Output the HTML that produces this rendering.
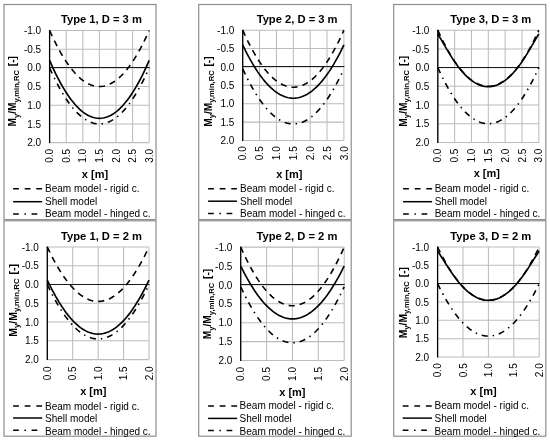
<!DOCTYPE html>
<html lang="en"><head><meta charset="utf-8"><title>Moment distribution charts</title>
<style>html,body{margin:0;padding:0;background:#fff}body{width:550px;height:440px;overflow:hidden}</style></head>
<body>
<svg width="550" height="440" viewBox="0 0 550 440" style="display:block" font-family="'Liberation Sans', sans-serif" fill="#000">
<rect x="0" y="0" width="550" height="440" fill="#fff"/>
<g>
<rect x="4" y="4.5" width="152" height="215.1" fill="#fff" stroke="#8e8e8e" stroke-width="1.2"/>
<path d="M49.6 30.5V142.6M66.2 30.5V142.6M82.8 30.5V142.6M99.4 30.5V142.6M116 30.5V142.6M132.6 30.5V142.6M149.2 30.5V142.6M49.6 30.5H149.2M49.6 49.18H149.2M49.6 67.87H149.2M49.6 86.55H149.2M49.6 105.23H149.2M49.6 123.92H149.2M49.6 142.6H149.2" stroke="#bcbcbc" stroke-width="1.05" fill="none"/>
<path d="M49.6 67.5H149.7" stroke="#1a1a1a" stroke-width="1" fill="none"/>
<path d="M49.6 30V143.1" stroke="#000" stroke-width="1.3" fill="none"/>
<path d="M49.6 30.5L51.26 34.17L52.92 37.72L54.58 41.15L56.24 44.45L57.9 47.63L59.56 50.68L61.22 53.61L62.88 56.41L64.54 59.09L66.2 61.64L67.86 64.07L69.52 66.37L71.18 68.55L72.84 70.61L74.5 72.54L76.16 74.34L77.82 76.03L79.48 77.58L81.14 79.01L82.8 80.32L84.46 81.51L86.12 82.56L87.78 83.5L89.44 84.31L91.1 84.99L92.76 85.55L94.42 85.99L96.08 86.3L97.74 86.49L99.4 86.55L101.06 86.49L102.72 86.3L104.38 85.99L106.04 85.55L107.7 84.99L109.36 84.31L111.02 83.5L112.68 82.56L114.34 81.51L116 80.32L117.66 79.01L119.32 77.58L120.98 76.03L122.64 74.34L124.3 72.54L125.96 70.61L127.62 68.55L129.28 66.37L130.94 64.07L132.6 61.64L134.26 59.09L135.92 56.41L137.58 53.61L139.24 50.68L140.9 47.63L142.56 44.45L144.22 41.15L145.88 37.72L147.54 34.17L149.2 30.5" stroke="#000" stroke-width="1.6" fill="none" stroke-dasharray="6.1 5.04"/>
<path d="M49.6 67.87L51.26 71.54L52.92 75.09L54.58 78.52L56.24 81.82L57.9 84.99L59.56 88.04L61.22 90.97L62.88 93.77L64.54 96.45L66.2 99.01L67.86 101.43L69.52 103.74L71.18 105.92L72.84 107.97L74.5 109.9L76.16 111.71L77.82 113.39L79.48 114.95L81.14 116.38L82.8 117.69L84.46 118.87L86.12 119.93L87.78 120.87L89.44 121.67L91.1 122.36L92.76 122.92L94.42 123.36L96.08 123.67L97.74 123.85L99.4 123.92L101.06 123.85L102.72 123.67L104.38 123.36L106.04 122.92L107.7 122.36L109.36 121.67L111.02 120.87L112.68 119.93L114.34 118.87L116 117.69L117.66 116.38L119.32 114.95L120.98 113.39L122.64 111.71L124.3 109.9L125.96 107.97L127.62 105.92L129.28 103.74L130.94 101.43L132.6 99.01L134.26 96.45L135.92 93.77L137.58 90.97L139.24 88.04L140.9 84.99L142.56 81.82L144.22 78.52L145.88 75.09L147.54 71.54L149.2 67.87" stroke="#000" stroke-width="1.6" fill="none" stroke-dasharray="6.1 4.9 1.5 4.9"/>
<path d="M49.6 60.39L51.26 64.19L52.92 67.86L54.58 71.4L56.24 74.81L57.9 78.09L59.56 81.24L61.22 84.27L62.88 87.16L64.54 89.93L66.2 92.57L67.86 95.08L69.52 97.46L71.18 99.71L72.84 101.84L74.5 103.83L76.16 105.7L77.82 107.44L79.48 109.04L81.14 110.52L82.8 111.88L84.46 113.1L86.12 114.19L87.78 115.16L89.44 115.99L91.1 116.7L92.76 117.28L94.42 117.73L96.08 118.05L97.74 118.25L99.4 118.31L101.06 118.25L102.72 118.05L104.38 117.73L106.04 117.28L107.7 116.7L109.36 115.99L111.02 115.16L112.68 114.19L114.34 113.1L116 111.88L117.66 110.52L119.32 109.04L120.98 107.44L122.64 105.7L124.3 103.83L125.96 101.84L127.62 99.71L129.28 97.46L130.94 95.08L132.6 92.57L134.26 89.93L135.92 87.16L137.58 84.27L139.24 81.24L140.9 78.09L142.56 74.81L144.22 71.4L145.88 67.86L147.54 64.19L149.2 60.39" stroke="#000" stroke-width="1.65" fill="none"/>
<g font-size="10" text-anchor="end">
<text x="41.2" y="34.1">-1.0</text>
<text x="41.2" y="52.78">-0.5</text>
<text x="41.2" y="71.47">0.0</text>
<text x="41.2" y="90.15">0.5</text>
<text x="41.2" y="108.83">1.0</text>
<text x="41.2" y="127.52">1.5</text>
<text x="41.2" y="146.2">2.0</text>
</g>
<g font-size="10" text-anchor="end">
<text transform="translate(53.2 148.9) rotate(-90)">0.0</text>
<text transform="translate(69.8 148.9) rotate(-90)">0.5</text>
<text transform="translate(86.4 148.9) rotate(-90)">1.0</text>
<text transform="translate(103 148.9) rotate(-90)">1.5</text>
<text transform="translate(119.6 148.9) rotate(-90)">2.0</text>
<text transform="translate(136.2 148.9) rotate(-90)">2.5</text>
<text transform="translate(152.8 148.9) rotate(-90)">3.0</text>
</g>
<text x="101.4" y="22.8" font-size="11.2" font-weight="bold" text-anchor="middle">Type 1, D = 3 m</text>
<text x="95" y="178" font-size="11" font-weight="bold" text-anchor="middle">x [m]</text>
<text transform="translate(16.4 126.5) rotate(-90)" font-size="10.2" font-weight="bold">M<tspan font-size="7.6" dy="2.2">y</tspan><tspan dy="-2.2">/M</tspan><tspan font-size="7.6" dy="2.2">y,min,RC</tspan><tspan dy="-2.2" dx="1"> [-]</tspan></text>
<path d="M13.1 188.7H42.2" stroke="#000" stroke-width="1.5" stroke-dasharray="5.8 5.8" fill="none"/>
<path d="M13.1 201.7H42.2" stroke="#000" stroke-width="1.5" fill="none"/>
<path d="M13.1 213.9H38.1" stroke="#000" stroke-width="1.5" stroke-dasharray="5.7 5.6 1.5 5.7" fill="none"/>
<g font-size="10">
<text x="45" y="192">Beam model - rigid c.</text>
<text x="45" y="205.3">Shell model</text>
<text x="45" y="216.6">Beam model - hinged c.</text>
</g>
</g>
<g>
<rect x="198.7" y="4.5" width="152.5" height="215.1" fill="#fff" stroke="#8e8e8e" stroke-width="1.2"/>
<path d="M242.7 30.2V140.5M259.57 30.2V140.5M276.43 30.2V140.5M293.3 30.2V140.5M310.17 30.2V140.5M327.03 30.2V140.5M343.9 30.2V140.5M242.7 30.2H343.9M242.7 48.58H343.9M242.7 66.97H343.9M242.7 85.35H343.9M242.7 103.73H343.9M242.7 122.12H343.9M242.7 140.5H343.9" stroke="#bcbcbc" stroke-width="1.05" fill="none"/>
<path d="M242.7 66.5H344.4" stroke="#1a1a1a" stroke-width="1" fill="none"/>
<path d="M242.7 29.7V141" stroke="#000" stroke-width="1.3" fill="none"/>
<path d="M242.7 30.2L244.39 33.94L246.07 37.55L247.76 41.03L249.45 44.38L251.13 47.61L252.82 50.72L254.51 53.69L256.19 56.54L257.88 59.26L259.57 61.86L261.25 64.33L262.94 66.67L264.63 68.89L266.31 70.98L268 72.94L269.69 74.78L271.37 76.49L273.06 78.07L274.75 79.53L276.43 80.86L278.12 82.06L279.81 83.14L281.49 84.09L283.18 84.91L284.87 85.61L286.55 86.18L288.24 86.62L289.93 86.94L291.61 87.13L293.3 87.19L294.99 87.13L296.67 86.94L298.36 86.62L300.05 86.18L301.73 85.61L303.42 84.91L305.11 84.09L306.79 83.14L308.48 82.06L310.17 80.86L311.85 79.53L313.54 78.07L315.23 76.49L316.91 74.78L318.6 72.94L320.29 70.98L321.97 68.89L323.66 66.67L325.35 64.33L327.03 61.86L328.72 59.26L330.41 56.54L332.09 53.69L333.78 50.72L335.47 47.61L337.15 44.38L338.84 41.03L340.53 37.55L342.21 33.94L343.9 30.2" stroke="#000" stroke-width="1.6" fill="none" stroke-dasharray="6.1 5.04"/>
<path d="M242.7 68.81L244.39 72.42L246.07 75.91L247.76 79.28L249.45 82.53L251.13 85.66L252.82 88.66L254.51 91.54L256.19 94.3L257.88 96.93L259.57 99.44L261.25 101.83L262.94 104.1L264.63 106.25L266.31 108.27L268 110.17L269.69 111.94L271.37 113.6L273.06 115.13L274.75 116.54L276.43 117.83L278.12 118.99L279.81 120.03L281.49 120.95L283.18 121.75L284.87 122.42L286.55 122.97L288.24 123.4L289.93 123.71L291.61 123.89L293.3 123.95L294.99 123.89L296.67 123.71L298.36 123.4L300.05 122.97L301.73 122.42L303.42 121.75L305.11 120.95L306.79 120.03L308.48 118.99L310.17 117.83L311.85 116.54L313.54 115.13L315.23 113.6L316.91 111.94L318.6 110.17L320.29 108.27L321.97 106.25L323.66 104.1L325.35 101.83L327.03 99.44L328.72 96.93L330.41 94.3L332.09 91.54L333.78 88.66L335.47 85.66L337.15 82.53L338.84 79.28L340.53 75.91L342.21 72.42L343.9 68.81" stroke="#000" stroke-width="1.6" fill="none" stroke-dasharray="6.1 4.9 1.5 4.9"/>
<path d="M242.7 44.91L244.39 48.4L246.07 51.78L247.76 55.04L249.45 58.18L251.13 61.2L252.82 64.1L254.51 66.88L256.19 69.55L257.88 72.1L259.57 74.52L261.25 76.83L262.94 79.03L264.63 81.1L266.31 83.05L268 84.89L269.69 86.61L271.37 88.21L273.06 89.69L274.75 91.05L276.43 92.29L278.12 93.42L279.81 94.43L281.49 95.32L283.18 96.09L284.87 96.74L286.55 97.27L288.24 97.69L289.93 97.98L291.61 98.16L293.3 98.22L294.99 98.16L296.67 97.98L298.36 97.69L300.05 97.27L301.73 96.74L303.42 96.09L305.11 95.32L306.79 94.43L308.48 93.42L310.17 92.29L311.85 91.05L313.54 89.69L315.23 88.21L316.91 86.61L318.6 84.89L320.29 83.05L321.97 81.1L323.66 79.03L325.35 76.83L327.03 74.52L328.72 72.1L330.41 69.55L332.09 66.88L333.78 64.1L335.47 61.2L337.15 58.18L338.84 55.04L340.53 51.78L342.21 48.4L343.9 44.91" stroke="#000" stroke-width="1.65" fill="none"/>
<g font-size="10" text-anchor="end">
<text x="234.3" y="33.8">-1.0</text>
<text x="234.3" y="52.18">-0.5</text>
<text x="234.3" y="70.57">0.0</text>
<text x="234.3" y="88.95">0.5</text>
<text x="234.3" y="107.33">1.0</text>
<text x="234.3" y="125.72">1.5</text>
<text x="234.3" y="144.1">2.0</text>
</g>
<g font-size="10" text-anchor="end">
<text transform="translate(246.3 146.3) rotate(-90)">0.0</text>
<text transform="translate(263.17 146.3) rotate(-90)">0.5</text>
<text transform="translate(280.03 146.3) rotate(-90)">1.0</text>
<text transform="translate(296.9 146.3) rotate(-90)">1.5</text>
<text transform="translate(313.77 146.3) rotate(-90)">2.0</text>
<text transform="translate(330.63 146.3) rotate(-90)">2.5</text>
<text transform="translate(347.5 146.3) rotate(-90)">3.0</text>
</g>
<text x="297.1" y="23" font-size="11.2" font-weight="bold" text-anchor="middle">Type 2, D = 3 m</text>
<text x="289.3" y="177.6" font-size="11" font-weight="bold" text-anchor="middle">x [m]</text>
<text transform="translate(211.7 126.8) rotate(-90)" font-size="10.2" font-weight="bold">M<tspan font-size="7.6" dy="2.2">y</tspan><tspan dy="-2.2">/M</tspan><tspan font-size="7.6" dy="2.2">y,min,RC</tspan><tspan dy="-2.2" dx="1"> [-]</tspan></text>
<path d="M208.1 188.8H236.9" stroke="#000" stroke-width="1.5" stroke-dasharray="5.8 5.8" fill="none"/>
<path d="M208.1 201.2H236.9" stroke="#000" stroke-width="1.5" fill="none"/>
<path d="M208.1 213.4H233.1" stroke="#000" stroke-width="1.5" stroke-dasharray="5.7 5.6 1.5 5.7" fill="none"/>
<g font-size="10">
<text x="240" y="191.9">Beam model - rigid c.</text>
<text x="240" y="204.9">Shell model</text>
<text x="240" y="217.2">Beam model - hinged c.</text>
</g>
</g>
<g>
<rect x="393.7" y="4.5" width="152.1" height="215.1" fill="#fff" stroke="#8e8e8e" stroke-width="1.2"/>
<path d="M437.8 30.2V142.4M454.63 30.2V142.4M471.47 30.2V142.4M488.3 30.2V142.4M505.13 30.2V142.4M521.97 30.2V142.4M538.8 30.2V142.4M437.8 30.2H538.8M437.8 48.9H538.8M437.8 67.6H538.8M437.8 86.3H538.8M437.8 105H538.8M437.8 123.7H538.8M437.8 142.4H538.8" stroke="#bcbcbc" stroke-width="1.05" fill="none"/>
<path d="M437.8 67.5H539.3" stroke="#1a1a1a" stroke-width="1" fill="none"/>
<path d="M437.8 29.7V142.9" stroke="#000" stroke-width="1.3" fill="none"/>
<path d="M437.8 30.2L439.48 33.88L441.17 37.43L442.85 40.86L444.53 44.16L446.22 47.34L447.9 50.4L449.58 53.33L451.27 56.13L452.95 58.81L454.63 61.37L456.32 63.8L458 66.1L459.68 68.29L461.37 70.34L463.05 72.27L464.73 74.08L466.42 75.77L468.1 77.32L469.78 78.76L471.47 80.07L473.15 81.25L474.83 82.31L476.52 83.25L478.2 84.06L479.88 84.74L481.57 85.3L483.25 85.74L484.93 86.05L486.62 86.24L488.3 86.3L489.98 86.24L491.67 86.05L493.35 85.74L495.03 85.3L496.72 84.74L498.4 84.06L500.08 83.25L501.77 82.31L503.45 81.25L505.13 80.07L506.82 78.76L508.5 77.32L510.18 75.77L511.87 74.08L513.55 72.27L515.23 70.34L516.92 68.29L518.6 66.1L520.28 63.8L521.97 61.37L523.65 58.81L525.33 56.13L527.02 53.33L528.7 50.4L530.38 47.34L532.07 44.16L533.75 40.86L535.43 37.43L537.12 33.88L538.8 30.2" stroke="#000" stroke-width="1.6" fill="none" stroke-dasharray="6.1 5.04"/>
<path d="M437.8 67.6L439.48 71.28L441.17 74.83L442.85 78.26L444.53 81.56L446.22 84.74L447.9 87.8L449.58 90.73L451.27 93.53L452.95 96.21L454.63 98.77L456.32 101.2L458 103.5L459.68 105.69L461.37 107.74L463.05 109.67L464.73 111.48L466.42 113.17L468.1 114.72L469.78 116.16L471.47 117.47L473.15 118.65L474.83 119.71L476.52 120.65L478.2 121.46L479.88 122.14L481.57 122.7L483.25 123.14L484.93 123.45L486.62 123.64L488.3 123.7L489.98 123.64L491.67 123.45L493.35 123.14L495.03 122.7L496.72 122.14L498.4 121.46L500.08 120.65L501.77 119.71L503.45 118.65L505.13 117.47L506.82 116.16L508.5 114.72L510.18 113.17L511.87 111.48L513.55 109.67L515.23 107.74L516.92 105.69L518.6 103.5L520.28 101.2L521.97 98.77L523.65 96.21L525.33 93.53L527.02 90.73L528.7 87.8L530.38 84.74L532.07 81.56L533.75 78.26L535.43 74.83L537.12 71.28L538.8 67.6" stroke="#000" stroke-width="1.6" fill="none" stroke-dasharray="6.1 4.9 1.5 4.9"/>
<path d="M437.8 33.94L439.48 36.75L441.17 39.63L442.85 42.54L444.53 45.45L446.22 48.33L447.9 51.16L449.58 53.93L451.27 56.62L452.95 59.22L454.63 61.72L456.32 64.12L458 66.41L459.68 68.58L461.37 70.63L463.05 72.57L464.73 74.38L466.42 76.07L468.1 77.64L469.78 79.08L471.47 80.4L473.15 81.59L474.83 82.66L476.52 83.6L478.2 84.42L479.88 85.11L481.57 85.67L483.25 86.11L484.93 86.42L486.62 86.61L488.3 86.67L489.98 86.61L491.67 86.42L493.35 86.11L495.03 85.67L496.72 85.11L498.4 84.42L500.08 83.6L501.77 82.66L503.45 81.59L505.13 80.4L506.82 79.08L508.5 77.64L510.18 76.07L511.87 74.38L513.55 72.57L515.23 70.63L516.92 68.58L518.6 66.41L520.28 64.12L521.97 61.72L523.65 59.22L525.33 56.62L527.02 53.93L528.7 51.16L530.38 48.33L532.07 45.45L533.75 42.54L535.43 39.63L537.12 36.75L538.8 33.94" stroke="#000" stroke-width="1.65" fill="none"/>
<g font-size="10" text-anchor="end">
<text x="429.4" y="33.8">-1.0</text>
<text x="429.4" y="52.5">-0.5</text>
<text x="429.4" y="71.2">0.0</text>
<text x="429.4" y="89.9">0.5</text>
<text x="429.4" y="108.6">1.0</text>
<text x="429.4" y="127.3">1.5</text>
<text x="429.4" y="146">2.0</text>
</g>
<g font-size="10" text-anchor="end">
<text transform="translate(441.4 148.7) rotate(-90)">0.0</text>
<text transform="translate(458.23 148.7) rotate(-90)">0.5</text>
<text transform="translate(475.07 148.7) rotate(-90)">1.0</text>
<text transform="translate(491.9 148.7) rotate(-90)">1.5</text>
<text transform="translate(508.73 148.7) rotate(-90)">2.0</text>
<text transform="translate(525.57 148.7) rotate(-90)">2.5</text>
<text transform="translate(542.4 148.7) rotate(-90)">3.0</text>
</g>
<text x="490.8" y="23" font-size="11.2" font-weight="bold" text-anchor="middle">Type 3, D = 3 m</text>
<text x="486.8" y="177.4" font-size="11" font-weight="bold" text-anchor="middle">x [m]</text>
<text transform="translate(406.6 126.7) rotate(-90)" font-size="10.28" font-weight="bold">M<tspan font-size="7.66" dy="2.2">y</tspan><tspan dy="-2.2">/M</tspan><tspan font-size="7.66" dy="2.2">y,min,RC</tspan><tspan dy="-2.2" dx="1"> [-]</tspan></text>
<path d="M403.1 188.7H432.1" stroke="#000" stroke-width="1.5" stroke-dasharray="5.8 5.8" fill="none"/>
<path d="M403.1 201.7H432.1" stroke="#000" stroke-width="1.5" fill="none"/>
<path d="M403.1 213.9H428.1" stroke="#000" stroke-width="1.5" stroke-dasharray="5.7 5.6 1.5 5.7" fill="none"/>
<g font-size="10">
<text x="434.7" y="192">Beam model - rigid c.</text>
<text x="434.7" y="204.9">Shell model</text>
<text x="434.7" y="216.9">Beam model - hinged c.</text>
</g>
</g>
<g>
<rect x="4" y="220.8" width="152" height="215.4" fill="#fff" stroke="#8e8e8e" stroke-width="1.2"/>
<path d="M47.3 247V359.6M72.72 247V359.6M98.15 247V359.6M123.58 247V359.6M149 247V359.6M47.3 247H149M47.3 265.77H149M47.3 284.53H149M47.3 303.3H149M47.3 322.07H149M47.3 340.83H149M47.3 359.6H149" stroke="#bcbcbc" stroke-width="1.05" fill="none"/>
<path d="M47.3 284.5H149.5" stroke="#1a1a1a" stroke-width="1" fill="none"/>
<path d="M47.3 246.5V360.1" stroke="#000" stroke-width="1.3" fill="none"/>
<path d="M47.3 247L48.99 250.57L50.69 254.01L52.38 257.34L54.08 260.55L55.77 263.63L57.47 266.59L59.16 269.43L60.86 272.16L62.55 274.76L64.25 277.24L65.94 279.59L67.64 281.83L69.33 283.95L71.03 285.94L72.72 287.82L74.42 289.57L76.11 291.2L77.81 292.72L79.5 294.11L81.2 295.38L82.89 296.53L84.59 297.55L86.28 298.46L87.98 299.25L89.67 299.91L91.37 300.46L93.06 300.88L94.76 301.18L96.45 301.36L98.15 301.42L99.84 301.36L101.54 301.18L103.24 300.88L104.93 300.46L106.62 299.91L108.32 299.25L110.02 298.46L111.71 297.55L113.41 296.53L115.1 295.38L116.8 294.11L118.49 292.72L120.19 291.2L121.88 289.57L123.58 287.82L125.27 285.94L126.97 283.95L128.66 281.83L130.36 279.59L132.05 277.24L133.75 274.76L135.44 272.16L137.13 269.43L138.83 266.59L140.52 263.63L142.22 260.55L143.91 257.34L145.61 254.01L147.31 250.57L149 247" stroke="#000" stroke-width="1.6" fill="none" stroke-dasharray="6.1 5.04"/>
<path d="M47.3 284.53L48.99 288.1L50.69 291.55L52.38 294.87L54.08 298.08L55.77 301.16L57.47 304.13L59.16 306.97L60.86 309.69L62.55 312.29L64.25 314.77L65.94 317.13L67.64 319.36L69.33 321.48L71.03 323.48L72.72 325.35L74.42 327.1L76.11 328.74L77.81 330.25L79.5 331.64L81.2 332.91L82.89 334.06L84.59 335.09L86.28 335.99L87.98 336.78L89.67 337.44L91.37 337.99L93.06 338.41L94.76 338.71L96.45 338.9L98.15 338.96L99.84 338.9L101.54 338.71L103.24 338.41L104.93 337.99L106.62 337.44L108.32 336.78L110.02 335.99L111.71 335.09L113.41 334.06L115.1 332.91L116.8 331.64L118.49 330.25L120.19 328.74L121.88 327.1L123.58 325.35L125.27 323.48L126.97 321.48L128.66 319.36L130.36 317.13L132.05 314.77L133.75 312.29L135.44 309.69L137.13 306.97L138.83 304.13L140.52 301.16L142.22 298.08L143.91 294.87L145.61 291.55L147.31 288.1L149 284.53" stroke="#000" stroke-width="1.6" fill="none" stroke-dasharray="6.1 4.9 1.5 4.9"/>
<path d="M47.3 280.03L48.99 283.57L50.69 287L52.38 290.3L54.08 293.48L55.77 296.54L57.47 299.49L59.16 302.31L60.86 305.01L62.55 307.59L64.25 310.06L65.94 312.4L67.64 314.62L69.33 316.72L71.03 318.7L72.72 320.57L74.42 322.31L76.11 323.93L77.81 325.43L79.5 326.81L81.2 328.07L82.89 329.21L84.59 330.23L86.28 331.13L87.98 331.92L89.67 332.58L91.37 333.12L93.06 333.54L94.76 333.84L96.45 334.02L98.15 334.08L99.84 334.02L101.54 333.84L103.24 333.54L104.93 333.12L106.62 332.58L108.32 331.92L110.02 331.13L111.71 330.23L113.41 329.21L115.1 328.07L116.8 326.81L118.49 325.43L120.19 323.93L121.88 322.31L123.58 320.57L125.27 318.7L126.97 316.72L128.66 314.62L130.36 312.4L132.05 310.06L133.75 307.59L135.44 305.01L137.13 302.31L138.83 299.49L140.52 296.54L142.22 293.48L143.91 290.3L145.61 287L147.31 283.57L149 280.03" stroke="#000" stroke-width="1.65" fill="none"/>
<g font-size="10" text-anchor="end">
<text x="38.9" y="250.6">-1.0</text>
<text x="38.9" y="269.37">-0.5</text>
<text x="38.9" y="288.13">0.0</text>
<text x="38.9" y="306.9">0.5</text>
<text x="38.9" y="325.67">1.0</text>
<text x="38.9" y="344.43">1.5</text>
<text x="38.9" y="363.2">2.0</text>
</g>
<g font-size="10" text-anchor="end">
<text transform="translate(50.9 366.4) rotate(-90)">0.0</text>
<text transform="translate(76.32 366.4) rotate(-90)">0.5</text>
<text transform="translate(101.75 366.4) rotate(-90)">1.0</text>
<text transform="translate(127.17 366.4) rotate(-90)">1.5</text>
<text transform="translate(152.6 366.4) rotate(-90)">2.0</text>
</g>
<text x="101.5" y="239.6" font-size="11.2" font-weight="bold" text-anchor="middle">Type 1, D = 2 m</text>
<text x="93.3" y="394.5" font-size="11" font-weight="bold" text-anchor="middle">x [m]</text>
<text transform="translate(17 336.8) rotate(-90)" font-size="10.56" font-weight="bold">M<tspan font-size="7.87" dy="2.2">y</tspan><tspan dy="-2.2">/M</tspan><tspan font-size="7.87" dy="2.2">y,min,RC</tspan><tspan dy="-2.2" dx="1"> [-]</tspan></text>
<path d="M13.1 405.9H42.2" stroke="#000" stroke-width="1.5" stroke-dasharray="5.8 5.8" fill="none"/>
<path d="M13.1 418H42.2" stroke="#000" stroke-width="1.5" fill="none"/>
<path d="M13.1 430.3H38.1" stroke="#000" stroke-width="1.5" stroke-dasharray="5.7 5.6 1.5 5.7" fill="none"/>
<g font-size="10">
<text x="45" y="409.5">Beam model - rigid c.</text>
<text x="45" y="421.9">Shell model</text>
<text x="45" y="434.5">Beam model - hinged c.</text>
</g>
</g>
<g>
<rect x="198.7" y="220.8" width="152.5" height="215.4" fill="#fff" stroke="#8e8e8e" stroke-width="1.2"/>
<path d="M240.7 247.1V360.5M266.57 247.1V360.5M292.45 247.1V360.5M318.32 247.1V360.5M344.2 247.1V360.5M240.7 247.1H344.2M240.7 266H344.2M240.7 284.9H344.2M240.7 303.8H344.2M240.7 322.7H344.2M240.7 341.6H344.2M240.7 360.5H344.2" stroke="#bcbcbc" stroke-width="1.05" fill="none"/>
<path d="M240.7 284.5H344.7" stroke="#1a1a1a" stroke-width="1" fill="none"/>
<path d="M240.7 246.6V361" stroke="#000" stroke-width="1.3" fill="none"/>
<path d="M240.7 247.1L242.42 250.94L244.15 254.65L245.88 258.23L247.6 261.68L249.32 265L251.05 268.19L252.77 271.25L254.5 274.18L256.22 276.98L257.95 279.65L259.68 282.19L261.4 284.6L263.12 286.88L264.85 289.02L266.57 291.04L268.3 292.93L270.02 294.69L271.75 296.32L273.47 297.81L275.2 299.18L276.92 300.42L278.65 301.52L280.38 302.5L282.1 303.35L283.82 304.06L285.55 304.65L287.27 305.1L289 305.43L290.72 305.62L292.45 305.69L294.18 305.62L295.9 305.43L297.62 305.1L299.35 304.65L301.07 304.06L302.8 303.35L304.52 302.5L306.25 301.52L307.98 300.42L309.7 299.18L311.43 297.81L313.15 296.32L314.88 294.69L316.6 292.93L318.32 291.04L320.05 289.02L321.77 286.88L323.5 284.6L325.22 282.19L326.95 279.65L328.67 276.98L330.4 274.18L332.12 271.25L333.85 268.19L335.57 265L337.3 261.68L339.02 258.23L340.75 254.65L342.47 250.94L344.2 247.1" stroke="#000" stroke-width="1.6" fill="none" stroke-dasharray="6.1 5.04"/>
<path d="M240.7 286.79L242.42 290.46L244.15 294L245.88 297.42L247.6 300.71L249.32 303.88L251.05 306.93L252.77 309.85L254.5 312.65L256.22 315.32L257.95 317.87L259.68 320.29L261.4 322.59L263.12 324.77L264.85 326.82L266.57 328.75L268.3 330.55L270.02 332.23L271.75 333.78L273.47 335.21L275.2 336.52L276.92 337.7L278.65 338.76L280.38 339.69L282.1 340.5L283.82 341.18L285.55 341.74L287.27 342.17L289 342.49L290.72 342.67L292.45 342.73L294.18 342.67L295.9 342.49L297.62 342.17L299.35 341.74L301.07 341.18L302.8 340.5L304.52 339.69L306.25 338.76L307.98 337.7L309.7 336.52L311.43 335.21L313.15 333.78L314.88 332.23L316.6 330.55L318.32 328.75L320.05 326.82L321.77 324.77L323.5 322.59L325.22 320.29L326.95 317.87L328.67 315.32L330.4 312.65L332.12 309.85L333.85 306.93L335.57 303.88L337.3 300.71L339.02 297.42L340.75 294L342.47 290.46L344.2 286.79" stroke="#000" stroke-width="1.6" fill="none" stroke-dasharray="6.1 4.9 1.5 4.9"/>
<path d="M240.7 266L242.42 269.47L244.15 272.82L245.88 276.05L247.6 279.17L249.32 282.17L251.05 285.05L252.77 287.81L254.5 290.46L256.22 292.99L257.95 295.4L259.68 297.69L261.4 299.87L263.12 301.93L264.85 303.87L266.57 305.69L268.3 307.4L270.02 308.98L271.75 310.45L273.47 311.81L275.2 313.04L276.92 314.16L278.65 315.16L280.38 316.04L282.1 316.8L283.82 317.45L285.55 317.98L287.27 318.39L289 318.68L290.72 318.86L292.45 318.92L294.18 318.86L295.9 318.68L297.62 318.39L299.35 317.98L301.07 317.45L302.8 316.8L304.52 316.04L306.25 315.16L307.98 314.16L309.7 313.04L311.43 311.81L313.15 310.45L314.88 308.98L316.6 307.4L318.32 305.69L320.05 303.87L321.77 301.93L323.5 299.87L325.22 297.69L326.95 295.4L328.67 292.99L330.4 290.46L332.12 287.81L333.85 285.05L335.57 282.17L337.3 279.17L339.02 276.05L340.75 272.82L342.47 269.47L344.2 266" stroke="#000" stroke-width="1.65" fill="none"/>
<g font-size="10" text-anchor="end">
<text x="232.3" y="250.7">-1.0</text>
<text x="232.3" y="269.6">-0.5</text>
<text x="232.3" y="288.5">0.0</text>
<text x="232.3" y="307.4">0.5</text>
<text x="232.3" y="326.3">1.0</text>
<text x="232.3" y="345.2">1.5</text>
<text x="232.3" y="364.1">2.0</text>
</g>
<g font-size="10" text-anchor="end">
<text transform="translate(244.3 367) rotate(-90)">0.0</text>
<text transform="translate(270.18 367) rotate(-90)">0.5</text>
<text transform="translate(296.05 367) rotate(-90)">1.0</text>
<text transform="translate(321.93 367) rotate(-90)">1.5</text>
<text transform="translate(347.8 367) rotate(-90)">2.0</text>
</g>
<text x="296.9" y="239.6" font-size="11.2" font-weight="bold" text-anchor="middle">Type 2, D = 2 m</text>
<text x="292.4" y="395.6" font-size="11" font-weight="bold" text-anchor="middle">x [m]</text>
<text transform="translate(211.3 339.2) rotate(-90)" font-size="10.2" font-weight="bold">M<tspan font-size="7.6" dy="2.2">y</tspan><tspan dy="-2.2">/M</tspan><tspan font-size="7.6" dy="2.2">y,min,RC</tspan><tspan dy="-2.2" dx="1"> [-]</tspan></text>
<path d="M208.1 406H237.2" stroke="#000" stroke-width="1.5" stroke-dasharray="5.8 5.8" fill="none"/>
<path d="M208.1 418.4H237.2" stroke="#000" stroke-width="1.5" fill="none"/>
<path d="M208.1 430.6H233.1" stroke="#000" stroke-width="1.5" stroke-dasharray="5.7 5.6 1.5 5.7" fill="none"/>
<g font-size="10">
<text x="239.6" y="409.3">Beam model - rigid c.</text>
<text x="239.6" y="421.9">Shell model</text>
<text x="239.6" y="434.5">Beam model - hinged c.</text>
</g>
</g>
<g>
<rect x="393.7" y="220.8" width="152.1" height="215.4" fill="#fff" stroke="#8e8e8e" stroke-width="1.2"/>
<path d="M437.6 247V357M463 247V357M488.4 247V357M513.8 247V357M539.2 247V357M437.6 247H539.2M437.6 265.33H539.2M437.6 283.67H539.2M437.6 302H539.2M437.6 320.33H539.2M437.6 338.67H539.2M437.6 357H539.2" stroke="#bcbcbc" stroke-width="1.05" fill="none"/>
<path d="M437.6 283.5H539.7" stroke="#1a1a1a" stroke-width="1" fill="none"/>
<path d="M437.6 246.5V357.5" stroke="#000" stroke-width="1.3" fill="none"/>
<path d="M437.6 247L439.29 250.49L440.99 253.85L442.68 257.1L444.37 260.23L446.07 263.25L447.76 266.14L449.45 268.92L451.15 271.57L452.84 274.12L454.53 276.54L456.23 278.84L457.92 281.03L459.61 283.09L461.31 285.04L463 286.88L464.69 288.59L466.39 290.18L468.08 291.66L469.77 293.02L471.47 294.26L473.16 295.38L474.85 296.39L476.55 297.27L478.24 298.04L479.93 298.69L481.63 299.22L483.32 299.63L485.01 299.93L486.71 300.11L488.4 300.17L490.09 300.11L491.79 299.93L493.48 299.63L495.17 299.22L496.87 298.69L498.56 298.04L500.25 297.27L501.95 296.39L503.64 295.38L505.33 294.26L507.03 293.02L508.72 291.66L510.41 290.18L512.11 288.59L513.8 286.88L515.49 285.04L517.19 283.09L518.88 281.03L520.57 278.84L522.27 276.54L523.96 274.12L525.65 271.57L527.35 268.92L529.04 266.14L530.73 263.25L532.43 260.23L534.12 257.1L535.81 253.85L537.51 250.49L539.2 247" stroke="#000" stroke-width="1.6" fill="none" stroke-dasharray="6.1 5.04"/>
<path d="M437.6 283.67L439.29 287.1L440.99 290.42L442.68 293.63L444.37 296.72L446.07 299.69L447.76 302.54L449.45 305.28L451.15 307.9L452.84 310.41L454.53 312.8L456.23 315.07L457.92 317.22L459.61 319.26L461.31 321.19L463 322.99L464.69 324.68L466.39 326.25L468.08 327.71L469.77 329.05L471.47 330.27L473.16 331.38L474.85 332.37L476.55 333.25L478.24 334L479.93 334.64L481.63 335.17L483.32 335.58L485.01 335.87L486.71 336.04L488.4 336.1L490.09 336.04L491.79 335.87L493.48 335.58L495.17 335.17L496.87 334.64L498.56 334L500.25 333.25L501.95 332.37L503.64 331.38L505.33 330.27L507.03 329.05L508.72 327.71L510.41 326.25L512.11 324.68L513.8 322.99L515.49 321.19L517.19 319.26L518.88 317.22L520.57 315.07L522.27 312.8L523.96 310.41L525.65 307.9L527.35 305.28L529.04 302.54L530.73 299.69L532.43 296.72L534.12 293.63L535.81 290.42L537.51 287.1L539.2 283.67" stroke="#000" stroke-width="1.6" fill="none" stroke-dasharray="6.1 4.9 1.5 4.9"/>
<path d="M437.6 251.03L439.29 253.57L440.99 256.2L442.68 258.87L444.37 261.56L446.07 264.24L447.76 266.88L449.45 269.47L451.15 272L452.84 274.44L454.53 276.8L456.23 279.06L457.92 281.21L459.61 283.26L461.31 285.2L463 287.03L464.69 288.74L466.39 290.34L468.08 291.82L469.77 293.18L471.47 294.42L473.16 295.55L474.85 296.56L476.55 297.45L478.24 298.22L479.93 298.87L481.63 299.4L483.32 299.82L485.01 300.11L486.71 300.29L488.4 300.35L490.09 300.29L491.79 300.11L493.48 299.82L495.17 299.4L496.87 298.87L498.56 298.22L500.25 297.45L501.95 296.56L503.64 295.55L505.33 294.42L507.03 293.18L508.72 291.82L510.41 290.34L512.11 288.74L513.8 287.03L515.49 285.2L517.19 283.26L518.88 281.21L520.57 279.06L522.27 276.8L523.96 274.44L525.65 272L527.35 269.47L529.04 266.88L530.73 264.24L532.43 261.56L534.12 258.87L535.81 256.2L537.51 253.57L539.2 251.03" stroke="#000" stroke-width="1.65" fill="none"/>
<g font-size="10" text-anchor="end">
<text x="429.2" y="250.6">-1.0</text>
<text x="429.2" y="268.93">-0.5</text>
<text x="429.2" y="287.27">0.0</text>
<text x="429.2" y="305.6">0.5</text>
<text x="429.2" y="323.93">1.0</text>
<text x="429.2" y="342.27">1.5</text>
<text x="429.2" y="360.6">2.0</text>
</g>
<g font-size="10" text-anchor="end">
<text transform="translate(441.2 363.3) rotate(-90)">0.0</text>
<text transform="translate(466.6 363.3) rotate(-90)">0.5</text>
<text transform="translate(492 363.3) rotate(-90)">1.0</text>
<text transform="translate(517.4 363.3) rotate(-90)">1.5</text>
<text transform="translate(542.8 363.3) rotate(-90)">2.0</text>
</g>
<text x="490.8" y="239.6" font-size="11.2" font-weight="bold" text-anchor="middle">Type 3, D = 2 m</text>
<text x="483.5" y="394.5" font-size="11" font-weight="bold" text-anchor="middle">x [m]</text>
<text transform="translate(407.1 338.3) rotate(-90)" font-size="10.33" font-weight="bold">M<tspan font-size="7.7" dy="2.2">y</tspan><tspan dy="-2.2">/M</tspan><tspan font-size="7.7" dy="2.2">y,min,RC</tspan><tspan dy="-2.2" dx="1"> [-]</tspan></text>
<path d="M402.7 405.9H432" stroke="#000" stroke-width="1.5" stroke-dasharray="5.8 5.8" fill="none"/>
<path d="M402.7 418.1H432" stroke="#000" stroke-width="1.5" fill="none"/>
<path d="M402.7 430.3H427.7" stroke="#000" stroke-width="1.5" stroke-dasharray="5.7 5.6 1.5 5.7" fill="none"/>
<g font-size="10">
<text x="434.6" y="409.3">Beam model - rigid c.</text>
<text x="434.6" y="422.2">Shell model</text>
<text x="434.6" y="434.5">Beam model - hinged c.</text>
</g>
</g>
</svg>
</body></html>
